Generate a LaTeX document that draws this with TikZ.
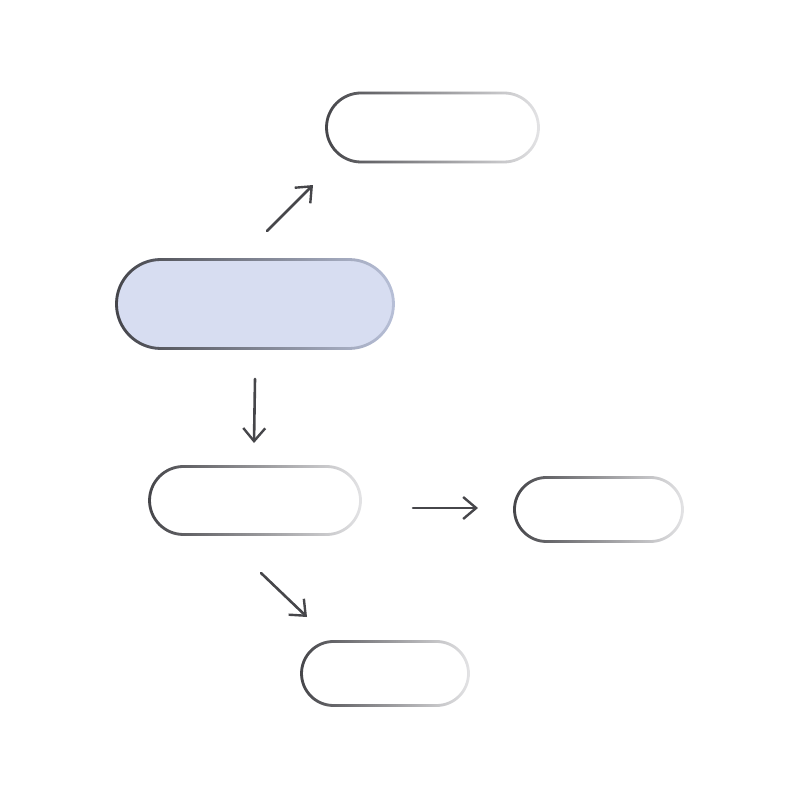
\documentclass[tikz,border=0pt]{standalone}
\usetikzlibrary{shapes.misc,arrows.meta,fadings}
\definecolor{darkline}{HTML}{46464A}
\definecolor{lightline}{HTML}{E4E4E6}
\definecolor{bluefill}{HTML}{D7DDF1}
\definecolor{bluelight}{HTML}{B8C0D8}
\tikzfading[name=fadeR, left color=transparent!0, middle color=transparent!15, right color=transparent!100]
\tikzset{
  box/.style={rounded rectangle, inner sep=0pt, line width=2.8pt, draw=lightline,
    postaction={draw=darkline, line width=2.8pt, path fading=fadeR}},
  mainbox/.style={box, fill=bluefill, draw=bluelight},
  flow/.style={draw=darkline, line width=2.6pt, line cap=round,
    -{Straight Barb[length=13pt,width=22pt,line width=2.4pt]}}
}
\begin{document}
\begin{tikzpicture}[x=1pt,y=-1pt]
\useasboundingbox (0,0) rectangle (800,800);
\node[box, minimum width=212pt, minimum height=69pt] (top) at (432.5,127.5) {};
\node[mainbox, minimum width=277pt, minimum height=89pt] (main) at (255,304) {};
\node[box, minimum width=211pt, minimum height=68pt] (mid) at (255,500.5) {};
\node[box, minimum width=168pt, minimum height=64pt] (right) at (598.5,509.5) {};
\node[box, minimum width=167pt, minimum height=64pt] (bottom) at (385,673.5) {};
\coordinate (a1s) at (267,231);
\coordinate (a1e) at (313,185);
\coordinate (a2s) at (255,379);
\coordinate (a2e) at (254,443);
\coordinate (a3s) at (413,508);
\coordinate (a3e) at (478,508);
\coordinate (a4s) at (261,573);
\coordinate (a4e) at (307,617);
\draw[flow] (a1s) -- (a1e);
\draw[flow] (a2s) -- (a2e);
\draw[flow] (a3s) -- (a3e);
\draw[flow] (a4s) -- (a4e);
\end{tikzpicture}
\end{document}
